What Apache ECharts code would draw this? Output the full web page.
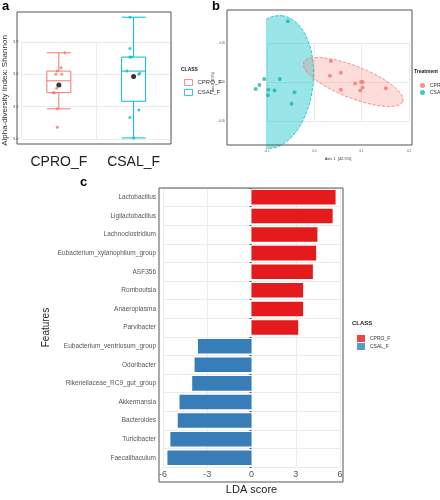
<!DOCTYPE html>
<html><head><meta charset="utf-8">
<script src="https://cdn.jsdelivr.net/npm/echarts@6/dist/echarts.min.js"></script>
<style>html,body{margin:0;padding:0;background:#fff}#main{width:440px;height:500px}</style>
</head><body><div id="main"></div>
<script>
var chart = echarts.init(document.getElementById('main'));

// panel a: Shannon boxplots [min, q1, median, q3, max]
var classes = ['CPRO_F', 'CSAL_F'];
var boxCPRO = [3.28, 3.43, 3.54, 3.63, 3.80];
var boxCSAL = [3.01, 3.35, 3.63, 3.76, 4.13];
var meanCPRO = 3.50, meanCSAL = 3.58;
var ptsCPRO = [3.80, 3.66, 3.63, 3.60, 3.60, 3.47, 3.43, 3.43, 3.28, 3.11];
var jitCPRO = [0.08, 0.03, -0.02, 0.04, -0.04, -0.03, -0.08, -0.06, -0.02, -0.02];
var ptsCSAL = [4.13, 3.84, 3.76, 3.76, 3.63, 3.61, 3.60, 3.27, 3.20, 3.01];
var jitCSAL = [-0.05, -0.05, -0.05, -0.03, -0.09, 0.08, 0.07, 0.07, -0.05, 0.0];

// panel b: PCoA
var pcoaCPRO = [[0.035,0.027],[0.033,0.008],[0.056,0.012],[0.056,-0.010],[0.086,-0.002],
  [0.099,0.0],[0.102,0.0],[0.102,-0.007],[0.097,-0.011],[0.151,-0.008]];
var pcoaCSAL = [[-0.056,0.078],[-0.106,0.004],[-0.116,-0.004],[-0.124,-0.009],[-0.097,-0.010],
  [-0.098,-0.017],[-0.084,-0.011],[-0.073,0.004],[-0.042,-0.013],[-0.048,-0.028]];
// ellipse: center, half-axis A, half-axis B
var ellCPRO = {c: [0.082, 0.0], a: [0.105, -0.025], b: [0.0123, 0.019]};
var ellCSAL = {c: [-0.085, 0.0], a: [0.016, 0.085], b: [0.082, -0.005]};

// panel c: LDA
var features = ['Faecalibaculum', 'Turicibacter', 'Bacteroides', 'Akkermansia', 'Rikenellaceae_RC9_gut_group',
  'Odoribacter', 'Eubacterium_ventriosum_group', 'Parvibacter', 'Anaeroplasma', 'Romboutsia', 'ASF356',
  'Eubacterium_xylanophilum_group', 'Lachnoclostridium', 'Ligilactobacillus', 'Lactobacillus'];
var ldaCPRO = ['-', '-', '-', '-', '-', '-', '-', 3.17, 3.5, 3.5, 4.16, 4.38, 4.47, 5.5, 5.7];
var ldaCSAL = [-5.7, -5.5, -5.0, -4.88, -4.02, -3.86, -3.63, '-', '-', '-', '-', '-', '-', '-', '-'];

var red = '#f8766d', teal = '#00bfc4';

function ellipse(e) {
  var pts = [];
  for (var i = 0; i <= 72; i++) {
    var t = i / 72 * Math.PI * 2;
    pts.push([e.c[0] + Math.cos(t) * e.a[0] + Math.sin(t) * e.b[0],
              e.c[1] + Math.cos(t) * e.a[1] + Math.sin(t) * e.b[1]]);
  }
  return pts;
}
function jitter(pts, jit, idx) {
  return pts.map(function (v, i) { return [idx + jit[i], v]; });
}

var gridLine = {show: true, lineStyle: {color: '#ebebeb'}};
function frameRect(x, y, w, h) {
  return {type: 'rect', shape: {x: x, y: y, width: w, height: h}, z: 100, silent: true,
    style: {fill: 'none', stroke: '#555', lineWidth: 1}};
}

option = {
  animation: false,
  textStyle: {fontFamily: 'Liberation Sans'},
  grid: [
    {left: 17, top: 42, width: 154, height: 97},
    {left: 267, top: 43, width: 142, height: 78},
    {left: 163, top: 188, width: 177, height: 294}
  ],
  xAxis: [
    {gridIndex: 0, type: 'category', data: classes, axisTick: {show: false},
      axisLine: {show: false}, splitLine: gridLine,
      axisLabel: {fontSize: 14, color: '#222', margin: 16, interval: 0}},
    {gridIndex: 0, type: 'value', min: -0.5, max: 1.5, show: false},
    {gridIndex: 1, type: 'value', min: -0.1, max: 0.2, interval: 0.1,
      name: 'Axis 1  [42.5%]', nameLocation: 'middle', nameGap: 36, nameTextStyle: {fontSize: 4, color: '#333'},
      axisLine: {show: false}, axisTick: {show: false}, splitLine: gridLine,
      axisLabel: {fontSize: 3, color: '#555', margin: 29, formatter: function (v) { return v.toFixed(1); }}},
    {gridIndex: 2, type: 'value', min: -6, max: 6, interval: 3,
      name: 'LDA score', nameLocation: 'middle', nameGap: 14, nameTextStyle: {fontSize: 11, color: '#222'},
      axisLine: {show: false}, axisTick: {length: 2, lineStyle: {color: '#555'}}, splitLine: gridLine,
      axisLabel: {fontSize: 9, color: '#555', margin: 3}}
  ],
  yAxis: [
    {gridIndex: 0, type: 'value', min: 3.0, max: 3.9, interval: 0.3,
      name: 'Alpha-diversity Index: Shannon', nameLocation: 'middle', nameGap: 9,
      nameTextStyle: {fontSize: 8, color: '#333'},
      axisLine: {show: false}, axisTick: {show: false}, splitLine: gridLine,
      axisLabel: {fontSize: 4, color: '#555', margin: 3, formatter: function (v) { return v.toFixed(1); }}},
    {gridIndex: 0, type: 'value', min: 3.0, max: 3.9, show: false},
    {gridIndex: 1, type: 'value', min: -0.05, max: 0.05, interval: 0.05,
      name: 'Axis 2  [25.0%]', nameLocation: 'middle', nameGap: 48, nameTextStyle: {fontSize: 3, color: '#333'},
      axisLine: {show: false}, axisTick: {show: false}, splitLine: gridLine,
      axisLabel: {fontSize: 3, color: '#555', margin: 42, formatter: function (v) { return v.toFixed(2); }}},
    {gridIndex: 2, type: 'category', data: features,
      name: 'Features', nameLocation: 'middle', nameGap: 112, nameTextStyle: {fontSize: 10, color: '#222'},
      axisLine: {show: false}, axisTick: {show: true, length: 2, lineStyle: {color: '#555'}},
      splitLine: {show: true, lineStyle: {color: '#ebebeb'}},
      axisLabel: {fontSize: 6.5, color: '#555', margin: 7, interval: 0}}
  ],
  legend: [
    {left: 179, top: 74, orient: 'vertical', itemWidth: 8, itemHeight: 6, itemGap: 3,
      textStyle: {fontSize: 6, color: '#333'}, data: [
        {name: 'CPRO_F', icon: 'rect', itemStyle: {color: '#fff', borderColor: red, borderWidth: 1}},
        {name: 'CSAL_F', icon: 'rect', itemStyle: {color: '#fff', borderColor: teal, borderWidth: 1}}]},
    {left: 415, top: 78, orient: 'vertical', itemWidth: 5, itemHeight: 5, itemGap: 2,
      textStyle: {fontSize: 5, color: '#333'}, data: [
        {name: 'CPRO_F', icon: 'circle', itemStyle: {color: red}},
        {name: 'CSAL_F', icon: 'circle', itemStyle: {color: teal}}]},
    {left: 352, top: 330, orient: 'vertical', itemWidth: 8, itemHeight: 7, itemGap: 1,
      textStyle: {fontSize: 5, color: '#333'}, data: [
        {name: 'CPRO_F', icon: 'rect', itemStyle: {color: '#e41a1c'}},
        {name: 'CSAL_F', icon: 'rect', itemStyle: {color: '#377eb8'}}]}
  ],
  graphic: [
    frameRect(17, 12, 154, 132),
    frameRect(227, 10, 185, 135),
    frameRect(159, 188, 184, 294),
    {type: 'text', left: 2, top: 0, style: {text: 'a', font: 'bold 13px Liberation Sans', fill: '#000'}},
    {type: 'text', left: 212, top: 0, style: {text: 'b', font: 'bold 13px Liberation Sans', fill: '#000'}},
    {type: 'text', left: 80, top: 176, style: {text: 'c', font: 'bold 13px Liberation Sans', fill: '#000'}},
    {type: 'text', left: 181, top: 67, style: {text: 'CLASS', font: 'bold 5px Liberation Sans', fill: '#222'}},
    {type: 'text', left: 414, top: 69, style: {text: 'Treatment', font: 'bold 5px Liberation Sans', fill: '#222'}},
    {type: 'text', left: 352, top: 320, style: {text: 'CLASS', font: 'bold 6px Liberation Sans', fill: '#222'}}
  ],
  series: [
    {type: 'boxplot', xAxisIndex: 0, yAxisIndex: 0, boxWidth: [24, 24], silent: true,
      data: [
        {value: boxCPRO, itemStyle: {color: '#fff', borderColor: red, borderWidth: 1}},
        {value: boxCSAL, itemStyle: {color: '#fff', borderColor: teal, borderWidth: 1}}]},
    {name: 'CPRO_F', type: 'scatter', xAxisIndex: 1, yAxisIndex: 1, symbolSize: 3, clip: false,
      itemStyle: {color: red}, data: jitter(ptsCPRO, jitCPRO, 0)},
    {name: 'CSAL_F', type: 'scatter', xAxisIndex: 1, yAxisIndex: 1, symbolSize: 3, clip: false,
      itemStyle: {color: teal}, data: jitter(ptsCSAL, jitCSAL, 1)},
    {type: 'scatter', xAxisIndex: 1, yAxisIndex: 1, symbolSize: 5, itemStyle: {color: '#000'},
      data: [[0, meanCPRO], [1, meanCSAL]]},
    {type: 'line', xAxisIndex: 2, yAxisIndex: 2, data: ellipse(ellCSAL), symbol: 'none', clip: false,
      lineStyle: {color: teal, width: 0.8, type: 'dashed'}, areaStyle: {color: teal, opacity: 0.4}},
    {type: 'line', xAxisIndex: 2, yAxisIndex: 2, data: ellipse(ellCPRO), symbol: 'none', clip: false,
      lineStyle: {color: red, width: 0.8, type: 'dashed'}, areaStyle: {color: red, opacity: 0.25}},
    {name: 'CPRO_F', type: 'scatter', xAxisIndex: 2, yAxisIndex: 2, symbolSize: 4, clip: false,
      itemStyle: {color: red}, data: pcoaCPRO},
    {name: 'CSAL_F', type: 'scatter', xAxisIndex: 2, yAxisIndex: 2, symbolSize: 4, clip: false,
      itemStyle: {color: '#1fb5a8'}, data: pcoaCSAL},
    {name: 'CPRO_F', type: 'bar', xAxisIndex: 3, yAxisIndex: 3, stack: 'lda', barCategoryGap: '22%',
      itemStyle: {color: '#e41a1c'}, data: ldaCPRO},
    {name: 'CSAL_F', type: 'bar', xAxisIndex: 3, yAxisIndex: 3, stack: 'lda', barCategoryGap: '22%',
      itemStyle: {color: '#377eb8'}, data: ldaCSAL}
  ]
};

chart.setOption(option);
</script>
</body></html>
